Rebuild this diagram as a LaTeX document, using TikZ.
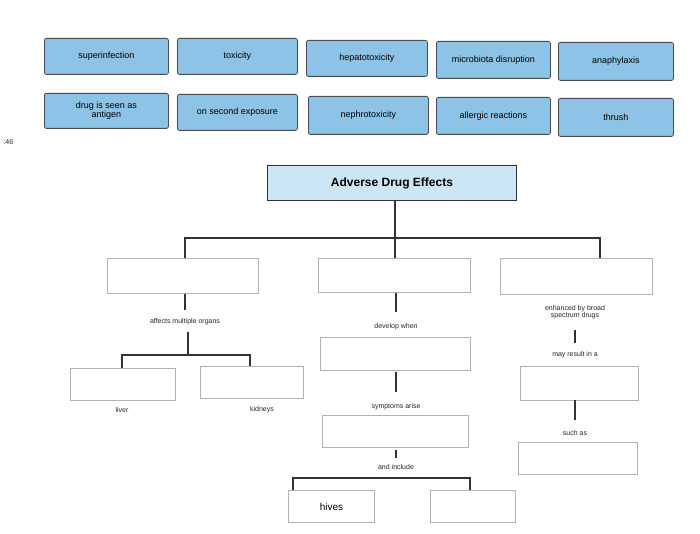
\documentclass[tikz,border=0pt]{standalone}
\usepackage{fontspec}
\setmainfont{Liberation Sans}
\definecolor{btnblue}{RGB}{140,195,230}
\definecolor{titleblue}{RGB}{205,230,245}
\begin{document}
\begin{tikzpicture}[x=1pt,y=-1pt,
 btn/.style={draw=black!70,fill=btnblue,rounded corners=2pt,line width=0.8pt,font=\fontsize{9}{9}\selectfont,align=center,inner sep=0pt},
 slot/.style={draw=gray!60,line width=1pt,fill=white,inner sep=0pt},
 lbl/.style={font=\fontsize{7}{7.5}\selectfont,align=center,text=black!85},
 ln/.style={line width=1.3pt,black!80}]
\useasboundingbox[fill=white] (0,0) rectangle (700,534);
\node[btn,minimum width=124,minimum height=36,anchor=north west] (b1) at (44,38) {superinfection};
\node[btn,minimum width=120,minimum height=36,anchor=north west] (b2) at (177,38) {toxicity};
\node[btn,minimum width=121,minimum height=36,anchor=north west] (b3) at (306,40) {hepatotoxicity};
\node[btn,minimum width=114,minimum height=37,anchor=north west] (b4) at (436,41) {microbiota disruption};
\node[btn,minimum width=115,minimum height=38,anchor=north west] (b5) at (558,42) {anaphylaxis};
\node[btn,minimum width=124,minimum height=35,anchor=north west] (c1) at (44,93) {drug is seen as\\antigen};
\node[btn,minimum width=120,minimum height=36,anchor=north west] (c2) at (177,94) {on second exposure};
\node[btn,minimum width=120,minimum height=38,anchor=north west] (c3) at (308,96) {nephrotoxicity};
\node[btn,minimum width=114,minimum height=37,anchor=north west] (c4) at (436,97) {allergic reactions};
\node[btn,minimum width=115,minimum height=38,anchor=north west] (c5) at (558,98) {thrush};
\node[lbl,anchor=west] (tm) at (0,142) {:46};
\node[draw=black!80,fill=titleblue,line width=1pt,minimum width=249,minimum height=35,anchor=north west,font=\bfseries\fontsize{12}{12}\selectfont] (title) at (267,165) {Adverse Drug Effects};
\node[slot,minimum width=151,minimum height=35,anchor=north west] (L) at (107,258) {};
\node[slot,minimum width=152,minimum height=34,anchor=north west] (M) at (318,258) {};
\node[slot,minimum width=152,minimum height=36,anchor=north west] (R) at (500,258) {};
\coordinate (j) at (395,238);
\draw[ln] (title.south -| j) -- (j);
\draw[ln] (L.north -| 185,0) |- (j) -| (R.north -| 600,0);
\draw[ln] (j) -- (M.north -| j);
\node[lbl] (t1) at (185,322) {affects multiple organs};
\draw[ln] (L.south -| 185,0) -- (185,310);
\node[slot,minimum width=105,minimum height=32,anchor=north west] (L1) at (70,368) {};
\node[slot,minimum width=103,minimum height=32,anchor=north west] (L2) at (200,366) {};
\coordinate (jl) at (188,355);
\draw[ln] (188,332) -- (jl);
\draw[ln] (L1.north -| 122,0) |- (jl) -| (L2.north -| 250,0);
\node[lbl] (t2) at (122,410) {liver};
\node[lbl] (t3) at (262,410) {kidneys};
\draw[ln] (M.south -| 396,0) -- (396,312);
\node[lbl] (t4) at (396,327) {develop when};
\node[slot,minimum width=150,minimum height=33,anchor=north west] (M1) at (320,337) {};
\draw[ln] (396,372) -- (396,392);
\node[lbl] (t5) at (396,407) {symptoms arise};
\node[slot,minimum width=146,minimum height=32,anchor=north west] (M2) at (322,415) {};
\draw[ln] (396,450) -- (396,458);
\node[lbl] (t6) at (396,467) {and include};
\node[slot,minimum width=86,minimum height=32,anchor=north west] (H) at (288,490) {hives};
\node[slot,minimum width=85,minimum height=32,anchor=north west] (H2) at (430,490) {};
\draw[ln] (H.north -| 293,0) |- (470,478) -- (H2.north -| 470,0);
\node[lbl] (t7) at (575,312) {enhanced by broad\\spectrum drugs};
\draw[ln] (575,330) -- (575,343);
\node[lbl] (t8) at (575,355) {may result in a};
\node[slot,minimum width=118,minimum height=34,anchor=north west] (R1) at (520,366) {};
\draw[ln] (575,400) -- (575,420);
\node[lbl] (t9) at (575,433) {such as};
\node[slot,minimum width=119,minimum height=32,anchor=north west] (R2) at (518,442) {};
\end{tikzpicture}
\end{document}
